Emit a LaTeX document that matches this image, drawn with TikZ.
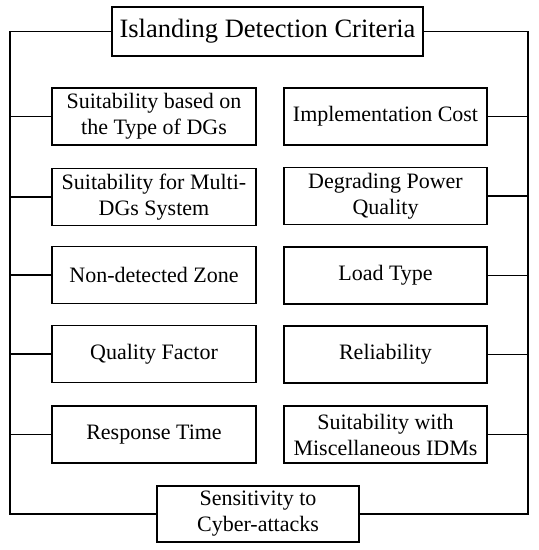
\documentclass[tikz,border=0pt]{standalone}
\usepackage{fontspec}
\setmainfont{Liberation Serif}
\begin{document}
\begin{tikzpicture}[x=1pt,y=1pt,
  crit/.style={draw, line width=1.3pt, minimum width=204pt, minimum height=57pt, inner sep=0pt, align=center, font=\fontsize{22}{26}\selectfont},
  wire/.style={line width=1.3pt}]
\useasboundingbox (0,0) rectangle (539,-550);
\node[draw, line width=1.3pt, minimum width=311pt, minimum height=49pt, inner sep=0pt, font=\fontsize{26.5}{30}\selectfont] (title) at (267.5,-31.5) {Islanding Detection Criteria};
\node[crit] (l1) at (154,-116.5) {Suitability based on\\the Type of DGs};
\node[crit] (l2) at (154,-197) {Suitability for Multi-\\DGs System};
\node[crit] (l3) at (154,-275) {Non-detected Zone};
\node[crit] (l4) at (154,-354) {Quality Factor};
\node[crit] (l5) at (154,-434.5) {Response Time};
\node[crit, minimum width=203pt] (r1) at (385.5,-116.5) {Implementation Cost};
\node[crit, minimum width=203pt] (r2) at (385.5,-196) {Degrading Power\\Quality};
\node[crit, minimum width=203pt] (r3) at (385.5,-275.5) {Load Type};
\node[crit, minimum width=203pt] (r4) at (385.5,-354.5) {Reliability};
\node[crit, minimum width=203pt] (r5) at (385.5,-434.5) {Suitability with\\Miscellaneous IDMs};
\node[crit, minimum width=202pt, minimum height=56pt] (bot) at (258,-514) {Sensitivity to\\Cyber-attacks};
\coordinate (tl) at (10,-31.5);
\coordinate (tr) at (528,-31.5);
\draw[wire] (title.west) -- (tl) |- (bot.west);
\draw[wire] (title.east) -- (tr) |- (bot.east);
\foreach \n in {l1,l2,l3,l4,l5} \draw[wire] (\n.west) -- (\n.west -| tl);
\foreach \n in {r1,r2,r3,r4,r5} \draw[wire] (\n.east) -- (\n.east -| tr);
\end{tikzpicture}
\end{document}
